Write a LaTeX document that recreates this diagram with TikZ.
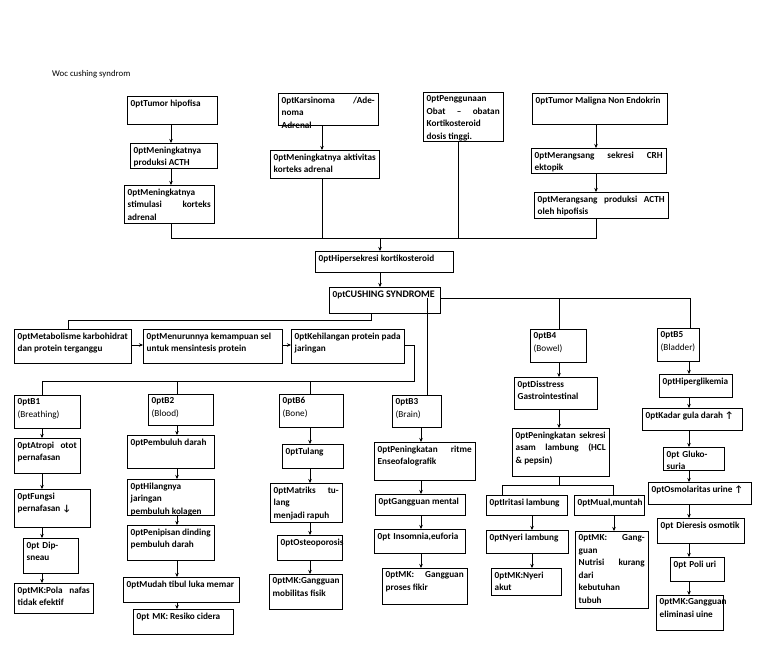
\documentclass[tikz,border=0pt]{standalone}
\usepackage{fontspec}
\setmainfont{Carlito}
\usetikzlibrary{arrows.meta}
\newcommand{\bx}[6]{%
  \node[boxs, minimum width={#4-#2}, minimum height={#5-#3}] (#1) at (#2,#3) {};
  \node[txt, text width={#4-#2-7}] (#1-t) at (#2,#3) {#6};}
\begin{document}
\begin{tikzpicture}[x=1pt,y=-1pt,
  boxs/.style={draw, line width=0.8pt, anchor=north west, inner sep=0pt},
  txt/.style={anchor=north west, inner sep=3.5pt, align=justify, font=\fontsize{9.2}{12.5}\selectfont\bfseries\hyphenpenalty=10000\exhyphenpenalty=10000},
  ln/.style={line width=0.8pt},
  arr/.style={line width=0.8pt, -{Stealth[length=4pt,width=3.5pt]}}]
\useasboundingbox[fill=white] (0,0) rectangle (768,647);
\node[anchor=west, inner sep=0pt, font=\fontsize{8.8}{10}\selectfont] (title) at (52,74) {Woc cushing syndrom};
% top row
\bx{th}{127}{96}{217}{124}{Tumor hipofisa}
\bx{mp}{130}{143}{217}{168}{Meningkatnya\\produksi ACTH}
\bx{ms}{124}{185}{214}{223}{Meningkatnya\\stimulasi \hfill korteks\\adrenal}
\bx{ka}{278}{93}{378}{125}{Karsinoma /Adenoma\\Adrenal}
\bx{ma}{270}{150}{379}{178}{Meningkatnya \hfill aktivitas\\korteks adrenal}
\bx{po}{423}{92}{503}{141}{Penggunaan\\Obat \hfill -- \hfill obatan\\Kortikosteroid\\dosis tinggi.}
\bx{tm}{532}{93}{667}{124}{Tumor Maligna Non Endokrin}
\bx{mc}{531}{148}{666}{173}{Merangsang \hfill sekresi \hfill CRH\\ektopik}
\bx{mh}{534}{192}{668}{218}{Merangsang \hfill produksi \hfill ACTH\\oleh hipofisis}
\bx{hk}{315}{251}{453}{272}{Hipersekresi kortikosteroid}
\bx{cs}{329}{287}{440}{313}{\fontsize{10}{12}\selectfont CUSHING SYNDROME}
\coordinate (x1) at (171,0); \coordinate (x2) at (322,0); \coordinate (x3) at (458,0);
\coordinate (x4) at (596,0); \coordinate (xh) at (380,0); \coordinate (jy) at (0,238);
\draw[arr] (th.south -| x1) -- (mp.north -| x1);
\draw[arr] (mp.south -| x1) -- (ms.north -| x1);
\draw[arr] (ka.south -| x2) -- (ma.north -| x2);
\draw[arr] (tm.south -| x4) -- (mc.north -| x4);
\draw[arr] (mc.south -| x4) -- (mh.north -| x4);
\draw[ln] (ms.south -| x1) -- (x1 |- jy) -- (x4 |- jy) -- (mh.south -| x4);
\draw[ln] (ma.south -| x2) -- (x2 |- jy);
\draw[ln] (po.south -| x3) -- (x3 |- jy);
\draw[arr] (xh |- jy) -- (hk.north -| xh);
\draw[arr] (hk.south -| xh) -- (cs.north -| xh);
% second row
\bx{mk}{14}{329}{131}{363}{Metabolisme karbohidrat\\dan protein terganggu}
\bx{mn}{143}{329}{282}{363}{Menurunnya kemampuan sel\\untuk mensintesis protein}
\bx{kp}{291}{329}{404}{363}{Kehilangan protein pada\\jaringan}
\coordinate (xc) at (371,0); \coordinate (xm) at (68,0);
\draw[ln] (cs.south -| xc) -- (371,320) -- (68,320) -- (mk.north -| xm);
\draw[arr] (mk.east |- 0,345) -- (mn.west |- 0,345);
\draw[arr] (mn.east |- 0,345) -- (kp.west |- 0,345);
% cushing right branches
\coordinate (xb3) at (427,0); \coordinate (xb4) at (559,0); \coordinate (xb5) at (690,0);
\bx{b3}{392}{395}{441}{427}{B3\\\mdseries(Brain)}
\bx{b4}{530}{329}{586}{362}{B4\\\mdseries(Bowel)}
\bx{b5}{657}{328}{699}{361}{B5\\\mdseries(Bladder)}
\draw[ln] (cs.east |- 0,298) -- (690,298) -- (b5.north -| xb5);
\draw[ln] (559,298) -- (b4.north -| xb4);
\draw[ln] (427,298) -- (b3.north -| xb3);
% B row
\bx{b1}{14}{395}{80}{428}{B1\\\mdseries(Breathing)}
\bx{b2}{148}{394}{213}{425}{B2\\\mdseries(Blood)}
\bx{b6}{279}{394}{343}{427}{B6\\\mdseries(Bone)}
\coordinate (c1) at (42,0); \coordinate (c2) at (177,0); \coordinate (c6) at (310,0);
\draw[ln] (kp.east |- 0,345) -- (414,345) -- (414,381) -- (42,381) -- (b1.north -| c1);
\draw[ln] (177,381) -- (b2.north -| c2);
\draw[ln] (310,381) -- (b6.north -| c6);
% B1 column
\bx{at}{14}{438}{80}{473}{Atropi \hfill otot\\pernafasan}
\bx{fp}{14}{489}{90}{527}{Fungsi\\pernafasan ↓}
\bx{dp}{23}{538}{78}{573}{\hspace*{3pt}Dipsneau}
\bx{mpn}{14}{583}{93}{613}{MK:Pola \hfill nafas\\tidak efektif}
\draw[arr] (b1.south -| c1) -- (at.north -| c1);
\draw[arr] (at.south -| c1) -- (fp.north -| c1);
\draw[arr] (fp.south -| c1) -- (dp.north -| c1);
\draw[arr] (dp.south -| c1) -- (mpn.north -| c1);
% B2 column
\bx{pd}{127}{435}{214}{468}{Pembuluh darah}
\bx{hj}{127}{479}{214}{515}{Hilangnya \hfill jaringan\\pembuluh kolagen}
\bx{pn}{127}{525}{214}{560}{Penipisan \hfill dinding\\pembuluh darah}
\bx{mt}{123}{577}{239}{602}{Mudah tibul luka memar}
\bx{mr}{133}{609}{233}{634}{\hspace*{3pt}MK: Resiko cidera}
\draw[arr] (b2.south -| c2) -- (pd.north -| c2);
\draw[arr] (pd.south -| c2) -- (hj.north -| c2);
\draw[arr] (hj.south -| c2) -- (pn.north -| c2);
\draw[arr] (pn.south -| c2) -- (mt.north -| c2);
\draw[arr] (mt.south -| c2) -- (mr.north -| c2);
% B6 column
\bx{tl}{282}{444}{343}{468}{Tulang}
\bx{mtr}{270}{483}{342}{522}{Matriks \hfill tulang\\menjadi rapuh}
\bx{os}{277}{535}{342}{560}{Osteoporosis}
\bx{mgm}{269}{574}{342}{609}{MK:Gangguan\\mobilitas fisik}
\draw[arr] (b6.south -| c6) -- (tl.north -| c6);
\draw[arr] (tl.south -| c6) -- (mtr.north -| c6);
\draw[arr] (mtr.south -| c6) -- (os.north -| c6);
\draw[arr] (os.south -| c6) -- (mgm.north -| c6);
% B3 column
\coordinate (c3) at (421,0);
\bx{pr}{374}{442}{475}{480}{Peningkatan \hfill ritme\\Enseofalografik}
\bx{gm}{375}{494}{465}{515}{Gangguan mental}
\bx{in}{374}{529}{465}{553}{\hspace*{3pt}Insomnia,euforia}
\bx{mgp}{382}{568}{467}{604}{MK: \hfill Gangguan\\proses fikir}
\draw[arr] (b3.south -| c3) -- (pr.north -| c3);
\draw[arr] (pr.south -| c3) -- (gm.north -| c3);
\draw[arr] (gm.south -| c3) -- (in.north -| c3);
\draw[arr] (in.south -| c3) -- (mgp.north -| c3);
% B4 column
\bx{dg}{514}{377}{597}{409}{Disstress\\Gastrointestinal}
\bx{ps}{512}{428}{609}{476}{Peningkatan \hfill sekresi\\asam \hfill lambung \hfill (HCL\\\& pepsin)}
\bx{il}{486}{495}{567}{515}{Iritasi lambung}
\bx{mm}{574}{495}{644}{515}{Mual,muntah}
\bx{nl}{486}{530}{568}{553}{Nyeri lambung}
\bx{mna}{491}{568}{561}{595}{MK:Nyeri akut}
\bx{mgn}{575}{531}{648}{608}{MK: Gangguan\\Nutrisi \hfill kurang\\dari\\kebutuhan\\tubuh}
\coordinate (ci) at (532,0); \coordinate (cm) at (614,0);
\coordinate (cl) at (502,0); \coordinate (cr) at (613,0);
\draw[arr] (b4.south -| xb4) -- (dg.north -| xb4);
\draw[arr] (dg.south -| xb4) -- (ps.north -| xb4);
\draw[ln] (ps.south -| xb4) -- (559,485) -- (502,485) -- (il.north -| cl);
\draw[ln] (559,485) -- (613,485) -- (mm.north -| cr);
\draw[arr] (il.south -| ci) -- (nl.north -| ci);
\draw[arr] (nl.south -| ci) -- (mna.north -| ci);
\draw[arr] (mm.south -| cm) -- (mgn.north -| cm);
% B5 column
\coordinate (c5) at (689,0);
\bx{hg}{659}{374}{732}{397}{Hiperglikemia}
\bx{kg}{642}{408}{742}{430}{Kadar gula darah ↑}
\bx{gk}{663}{447}{724}{470}{\hspace*{3pt}Glukosuria}
\bx{om}{648}{482}{751}{504}{Osmolaritas urine ↑}
\bx{dr}{657}{518}{744}{543}{\hspace*{3pt}Dieresis osmotik}
\bx{pu}{670}{557}{724}{581}{\hspace*{3pt}Poli uri}
\bx{me}{656}{595}{723}{630}{MK:Gangguan\\eliminasi uine}
\draw[arr] (b5.south -| c5) -- (hg.north -| c5);
\draw[arr] (hg.south -| c5) -- (kg.north -| c5);
\draw[arr] (kg.south -| c5) -- (gk.north -| c5);
\draw[arr] (gk.south -| c5) -- (om.north -| c5);
\draw[arr] (om.south -| c5) -- (dr.north -| c5);
\draw[arr] (dr.south -| c5) -- (pu.north -| c5);
\draw[arr] (pu.south -| c5) -- (me.north -| c5);
\end{tikzpicture}
\end{document}
